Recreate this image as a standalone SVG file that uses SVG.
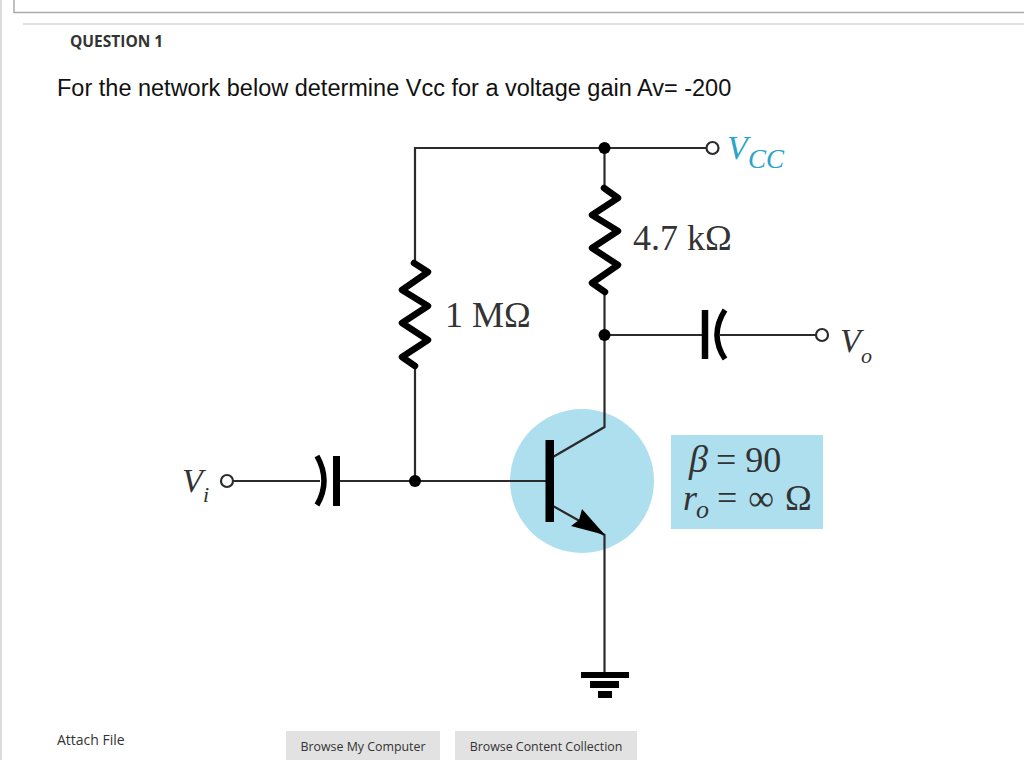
<svg xmlns="http://www.w3.org/2000/svg" width="1024" height="760" viewBox="0 0 1024 760">
<style>
.w{fill:none;stroke:#2b2b2b;stroke-width:2.200}
.r{fill:none;stroke:#000;stroke-width:6.500;stroke-linejoin:round;stroke-linecap:round}
.d{fill:#000}
.term{fill:#fff;stroke:#2b2b2b;stroke-width:2.200}
.s{font-family:"Liberation Serif",serif;font-size:36px;fill:#333}
.si{font-family:"Liberation Serif",serif;font-style:italic;fill:#333}
.ui{font-family:"Open Sans",sans-serif;fill:#333}
.btn{fill:#e2e2e2}
</style>
<rect width="1024" height="760" fill="#fff"/>
<g id="page-chrome">
<rect x="0" y="0" width="2" height="760" fill="#dcdcdc"/>
<path d="M14 0V12.500H1024" fill="none" stroke="#aaa" stroke-width="1.500"/>
<path d="M23 24H1024" stroke="#d8d8d8" stroke-width="1.500"/>
</g>
<g id="heading">
<text x="70" y="47" class="ui" font-size="15.500" font-weight="700">QUESTION 1</text>
<text x="57" y="96" font-family="Liberation Sans,sans-serif" font-size="23.500" fill="#111">For the network below determine Vcc for a voltage gain Av= -200</text>
</g>
<g id="transistor-bg"><circle cx="582" cy="481" r="72" fill="#addfee"/></g>
<g id="beta-box">
<rect x="671" y="435" width="152" height="94" fill="#addfee"/>
<text x="689" y="472" class="si" font-size="38">β</text>
<text x="716" y="472" class="s">= 90</text>
<text x="683" y="510" class="si" font-size="36">r</text>
<text x="696" y="518" class="si" font-size="26">o</text>
<text x="717" y="510" class="s" word-spacing="2">= ∞ Ω</text>
</g>
<g id="connectors">
<path class="w" d="M415 263V148H706"/>
<path class="w" d="M604.500 148V188"/>
<path class="w" d="M604.500 292V427L553 457"/>
<path class="w" d="M415 365V481"/>
<path class="w" d="M604.500 335H702"/>
<path class="w" d="M720 335H816"/>
<path class="w" d="M233 481H320"/>
<path class="w" d="M340 481H546"/>
<path class="w" d="M553 506L604.500 535V672"/>
</g>
<g id="r-collector"><path class="r" d="M604 188L618 198L592 215L618 231L592 248L618 265L592 283L605 292"/></g>
<g id="r-base"><path class="r" d="M414 263L428 272L402 290L428 306L402 323L428 340L402 357L415 366"/></g>
<g id="c-output">
<path d="M705 310V359" stroke="#000" stroke-width="6.500"/>
<path d="M725 310Q709 335 725 359" fill="none" stroke="#000" stroke-width="5.500"/>
</g>
<g id="c-input">
<path d="M336.500 456V506" stroke="#000" stroke-width="7"/>
<path d="M317 456Q331 481 317 505" fill="none" stroke="#000" stroke-width="5.500"/>
</g>
<g id="transistor">
<rect x="545.500" y="440" width="8.500" height="82" fill="#000"/>
<path class="d" d="M605 535L571 526L579 520L582 509Z"/>
</g>
<g id="junctions">
<circle class="d" cx="604.500" cy="148" r="6"/>
<circle class="d" cx="604.500" cy="335" r="6"/>
<circle class="d" cx="415" cy="481" r="6"/>
</g>
<g id="terminals">
<circle class="term" cx="712.500" cy="148" r="6"/>
<circle class="term" cx="822" cy="335" r="6"/>
<circle class="term" cx="227" cy="481" r="6"/>
</g>
<g id="ground">
<rect x="581" y="672" width="48" height="6" fill="#000"/>
<rect x="590" y="681" width="29" height="7" fill="#000"/>
<rect x="598" y="691" width="14" height="7" fill="#000"/>
</g>
<g id="labels">
<text x="727" y="159" font-family="Liberation Serif,serif" font-style="italic" font-size="34" fill="#2aa4c8">V</text>
<text x="748" y="168" font-family="Liberation Serif,serif" font-style="italic" font-size="27" fill="#2aa4c8">CC</text>
<text x="633" y="250" class="s">4.7 kΩ</text>
<text x="445" y="327" class="s">1 MΩ</text>
<text x="840" y="352" class="si" font-size="34">V</text>
<text x="861" y="363" class="si" font-size="22">o</text>
<text x="182" y="492" class="si" font-size="34">V</text>
<text x="203" y="502" class="si" font-size="22">i</text>
</g>
<g id="footer">
<text x="57" y="745" class="ui" font-size="14">Attach File</text>
<g id="browse-computer"><rect class="btn" x="286" y="731" width="154" height="29"/><text x="363" y="751" text-anchor="middle" class="ui" font-size="12.400">Browse My Computer</text></g>
<g id="browse-content"><rect class="btn" x="455" y="731" width="182" height="29"/><text x="546" y="751" text-anchor="middle" class="ui" font-size="12.400">Browse Content Collection</text></g>
</g>
</svg>
